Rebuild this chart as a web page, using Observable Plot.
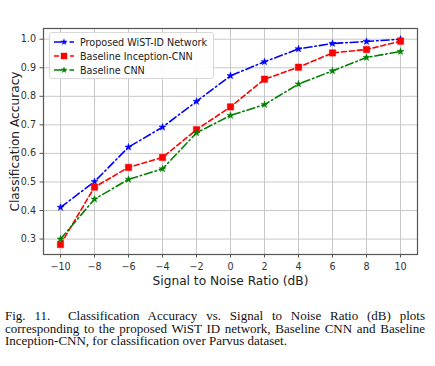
<!DOCTYPE html>
<html>
<head>
<meta charset="utf-8">
<script src="https://cdn.jsdelivr.net/npm/d3@7"></script>
<script src="https://cdn.jsdelivr.net/npm/@observablehq/plot@0.6"></script>
<style>
  html, body { margin: 0; padding: 0; background: #fff; }
  #wrap { position: relative; width: 435px; }
  #chart svg { display: block; }
  #legend {
    position: absolute; left: 49px; top: 32px; width: 163px; height: 45px;
    border: 1px solid #d8d8d8; border-radius: 3px; background: rgba(255,255,255,0.9);
    font-family: "DejaVu Sans", sans-serif; font-size: 9.6px; color: #222;
  }
  .lg { position: absolute; left: 3px; height: 14px; display: flex; align-items: center; }
  .lg svg { margin-right: 5px; }
  #caption {
    font-family: "Liberation Serif", "Times New Roman", serif; font-size: 13px;
    line-height: 12.7px; text-align: justify; color: #111;
    width: 420px; margin-left: 5px; margin-top: 20px;
  }
</style>
</head>
<body>
<div id="wrap">
  <div id="chart"></div>
  <div id="legend"></div>
  <div id="caption">Fig. 11.&nbsp;&nbsp;Classification Accuracy vs. Signal to Noise Ratio (dB) plots corresponding to the proposed WiST ID network, Baseline CNN and Baseline Inception-CNN, for classification over Parvus dataset.</div>
</div>
<script>
const snr = [-10, -8, -6, -4, -2, 0, 2, 4, 6, 8, 10];
const proposed = [0.411, 0.501, 0.622, 0.692, 0.782, 0.872, 0.921, 0.966, 0.985, 0.992, 1.0];
const inception = [0.281, 0.482, 0.551, 0.586, 0.683, 0.763, 0.860, 0.902, 0.952, 0.964, 0.993];
const cnn = [0.300, 0.440, 0.509, 0.546, 0.672, 0.733, 0.771, 0.843, 0.889, 0.936, 0.957];
const seriesNames = ["Proposed WiST-ID Network", "Baseline Inception-CNN", "Baseline CNN"];
const seriesColors = ["#0000ff", "#ff0000", "#008000"];
const seriesDash = ["8,3,1.5,3", "5,3", "8,3,1.5,3"];
const seriesSymbol = ["star", "square", "star"];
const seriesR = [2.2, 3.6, 2.2];
const xTicks = [-10, -8, -6, -4, -2, 0, 2, 4, 6, 8, 10];
const yTicks = [0.3, 0.4, 0.5, 0.6, 0.7, 0.8, 0.9, 1.0];

const allVals = [proposed, inception, cnn];
const rows = [];
allVals.forEach((vals, s) => vals.forEach((v, i) => rows.push({x: snr[i], y: v, s})));

const marks = [
  Plot.gridX(xTicks, {stroke: "#c8c8c8", strokeOpacity: 1, strokeWidth: 1}),
  Plot.gridY(yTicks, {stroke: "#c8c8c8", strokeOpacity: 1, strokeWidth: 1}),
  Plot.axisX(xTicks, {tickSize: 3.5, tickPadding: 5, stroke: "#555", fontSize: 9.6, fill: "#333", label: null}),
  Plot.axisY(yTicks, {tickSize: 3.5, tickPadding: 4, stroke: "#555", fontSize: 9.6, fill: "#333", label: null, tickFormat: d3.format(".1f")}),
  Plot.text(["Signal to Noise Ratio (dB)"], {frameAnchor: "bottom", dy: 30, fontSize: 12.2, fill: "#222"}),
  Plot.text(["Classification Accuracy"], {frameAnchor: "left", dx: -28, rotate: -90, textAnchor: "middle", lineAnchor: "middle", fontSize: 12.2, fill: "#222"}),
];
[0, 1, 2].forEach(s => {
  const d = rows.filter(r => r.s === s);
  marks.push(Plot.line(d, {x: "x", y: "y", stroke: seriesColors[s], strokeWidth: 1.6, strokeDasharray: seriesDash[s]}));
  marks.push(Plot.dot(d, {x: "x", y: "y", symbol: seriesSymbol[s], r: seriesR[s], fill: seriesColors[s], stroke: seriesColors[s], strokeWidth: 0.5}));
});
marks.push(Plot.frame({stroke: "#555", strokeWidth: 1.2}));

const chart = Plot.plot({
  width: 435, height: 290,
  marginLeft: 43, marginRight: 18, marginTop: 28, marginBottom: 36,
  style: {fontFamily: "DejaVu Sans, sans-serif", background: "#fff"},
  x: {domain: [-11, 11]},
  y: {domain: [0.246, 1.0375]},
  marks
});
document.getElementById("chart").appendChild(chart);

const legend = document.getElementById("legend");
seriesNames.forEach((name, s) => {
  const row = document.createElement("div");
  row.className = "lg";
  row.style.top = (2 + s * 14) + "px";
  const sym = d3.symbol(s === 1 ? d3.symbolSquare : d3.symbolStar, Math.PI * seriesR[s] * seriesR[s])();
  row.innerHTML = `<svg width="22" height="10"><line x1="1" x2="21" y1="5" y2="5" stroke="${seriesColors[s]}" stroke-width="1.6" stroke-dasharray="${seriesDash[s]}"/><path d="${sym}" transform="translate(11,5)" fill="${seriesColors[s]}"/></svg><span>${name}</span>`;
  legend.appendChild(row);
});
</script>
</body>
</html>
